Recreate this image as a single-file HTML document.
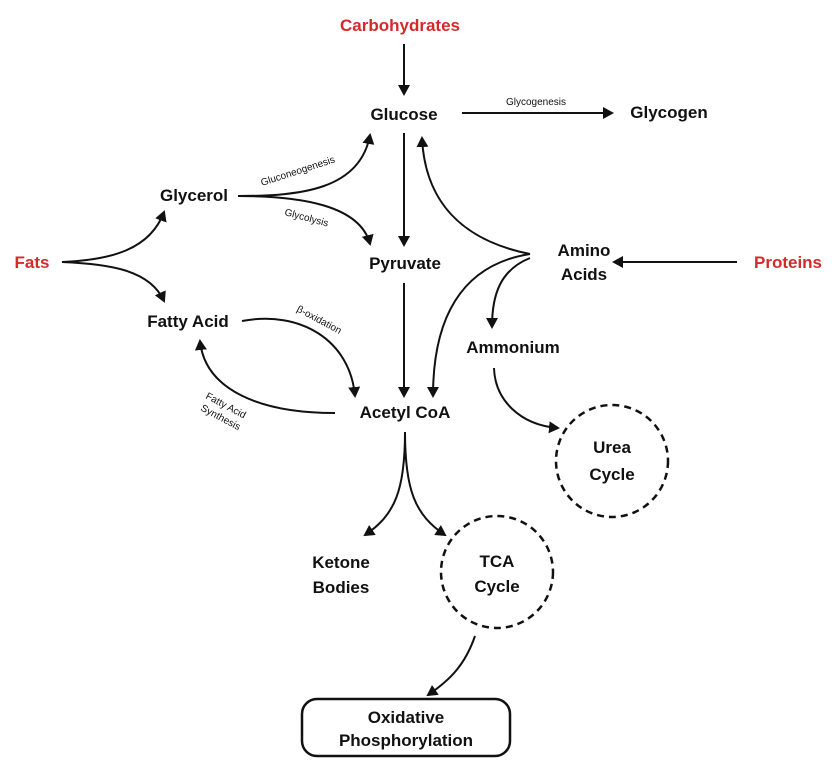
<!DOCTYPE html>
<html><head><meta charset="utf-8"><style>
html,body{margin:0;padding:0;background:#fff}
svg{display:block}
text{font-family:"Liberation Sans",sans-serif;font-weight:bold;fill:#111}
.b{font-size:17px;text-anchor:middle}
.r{fill:#d42a2a}
.s{font-size:10px;font-weight:normal}
path,line{stroke:#111;stroke-width:2;fill:none}
</style></head><body>
<svg width="836" height="769" viewBox="0 0 836 769">
<defs><marker id="a" markerWidth="12" markerHeight="12" refX="9" refY="6" orient="auto" markerUnits="userSpaceOnUse"><path d="M0,0 L11,6 L0,12 Z" style="fill:#111;stroke:none"/></marker></defs>
<text class="b r" x="400" y="31">Carbohydrates</text>
<text class="b" x="404" y="120">Glucose</text>
<text class="b" x="669" y="118">Glycogen</text>
<text class="b" x="194" y="201">Glycerol</text>
<text class="b" x="405" y="269">Pyruvate</text>
<text class="b r" x="32" y="268">Fats</text>
<text class="b" x="584" y="256">Amino</text>
<text class="b" x="584" y="280">Acids</text>
<text class="b r" x="788" y="268">Proteins</text>
<text class="b" x="188" y="327">Fatty Acid</text>
<text class="b" x="513" y="353">Ammonium</text>
<text class="b" x="405" y="418">Acetyl CoA</text>
<circle cx="612" cy="461" r="56" style="fill:none;stroke:#111;stroke-width:2.5;stroke-dasharray:7 5"/>
<text class="b" x="612" y="453">Urea</text>
<text class="b" x="612" y="480">Cycle</text>
<text class="b" x="341" y="568">Ketone</text>
<text class="b" x="341" y="593">Bodies</text>
<circle cx="497" cy="572" r="56" style="fill:none;stroke:#111;stroke-width:2.5;stroke-dasharray:7 5"/>
<text class="b" x="497" y="567">TCA</text>
<text class="b" x="497" y="592">Cycle</text>
<rect x="302" y="699" width="208" height="57" rx="15" style="fill:none;stroke:#111;stroke-width:2.5"/>
<text class="b" x="406" y="723">Oxidative</text>
<text class="b" x="406" y="746">Phosphorylation</text>
<text class="s" x="536" y="105" text-anchor="middle">Glycogenesis</text>
<text class="s" x="262" y="186" transform="rotate(-18 262 186)">Gluconeogenesis</text>
<text class="s" x="284" y="215" transform="rotate(15 284 215)">Glycolysis</text>
<text class="s" x="296" y="311" transform="rotate(28 296 311)">β-oxidation</text>
<text class="s" x="205" y="398" transform="rotate(28 205 398)">Fatty Acid</text>
<text class="s" x="200" y="410" transform="rotate(28 200 410)">Synthesis</text>
<line x1="404" y1="44" x2="404" y2="94" marker-end="url(#a)"/>
<line x1="462" y1="113" x2="612" y2="113" marker-end="url(#a)"/>
<line x1="404" y1="133" x2="404" y2="245" marker-end="url(#a)"/>
<line x1="404" y1="283" x2="404" y2="396" marker-end="url(#a)"/>
<line x1="737" y1="262" x2="614" y2="262" marker-end="url(#a)"/>
<path d="M238,196 C300,196 360,190 370,135" marker-end="url(#a)"/>
<path d="M238,196 C300,196 360,205 370,244" marker-end="url(#a)"/>
<path d="M62,262 C110,260 150,250 164,212" marker-end="url(#a)"/>
<path d="M62,262 C110,264 150,270 164,301" marker-end="url(#a)"/>
<path d="M242,321 C300,310 350,340 355,396" marker-end="url(#a)"/>
<path d="M335,413 C260,413 205,390 200,341" marker-end="url(#a)"/>
<path d="M530,254 C460,240 425,200 422,138" marker-end="url(#a)"/>
<path d="M530,254 C460,265 433,320 433,396" marker-end="url(#a)"/>
<path d="M530,258 C500,270 492,295 492,327" marker-end="url(#a)"/>
<path d="M494,368 C495,400 520,425 558,428" marker-end="url(#a)"/>
<path d="M405,432 C405,490 395,515 365,535" marker-end="url(#a)"/>
<path d="M405,432 C405,490 415,515 445,535" marker-end="url(#a)"/>
<path d="M475,636 C465,665 450,680 428,695" marker-end="url(#a)"/>
</svg>
</body></html>
